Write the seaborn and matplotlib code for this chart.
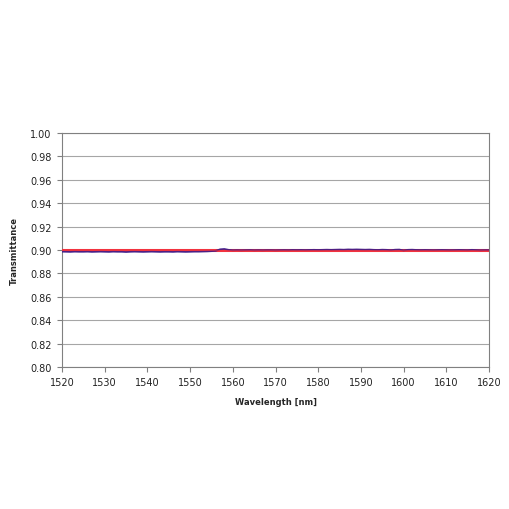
import numpy as np
import pandas as pd
import matplotlib
matplotlib.use("Agg")
import matplotlib.pyplot as plt
import seaborn as sns

# measured transmittance, 1 nm steps from 1520 to 1620
wavelength = list(range(1520, 1621))
measured = [
    0.8986, 0.8985, 0.8984, 0.8986, 0.8985, 0.8985, 0.8986, 0.8984, 0.8985, 0.8986,  # 1520-1529
    0.8985, 0.8984, 0.8986, 0.8985, 0.8985, 0.8983, 0.8985, 0.8986, 0.8985, 0.8984,  # 1530-1539
    0.8985, 0.8986, 0.8985, 0.8984, 0.8985, 0.8985, 0.8984, 0.8986, 0.8985, 0.8984,  # 1540-1549
    0.8985, 0.8986, 0.8986, 0.8987, 0.8988, 0.8990, 0.8993, 0.9006, 0.9009, 0.9002,  # 1550-1559
    0.8998, 0.8999, 0.8998, 0.8999, 0.9000, 0.8998, 0.8999, 0.8998, 0.8999, 0.8999,  # 1560-1569
    0.8998, 0.8999, 0.9000, 0.8999, 0.9001, 0.9000, 0.9001, 0.9000, 0.9001, 0.9002,  # 1570-1579
    0.9001, 0.9002, 0.9003, 0.9002, 0.9003, 0.9004, 0.9003, 0.9005, 0.9004, 0.9005,  # 1580-1589
    0.9004, 0.9003, 0.9004, 0.9002, 0.9001, 0.9003, 0.9002, 0.8999, 0.9003, 0.9004,  # 1590-1599
    0.8997, 0.9002, 0.9003, 0.9001, 0.9000, 0.9001, 0.9000, 0.8999, 0.9000, 0.9001,  # 1600-1609
    0.9000, 0.8999, 0.9000, 0.9001, 0.9000, 0.8999, 0.9002, 0.9000, 0.8998, 0.8999,  # 1610-1619
    0.8999,                                                                          # 1620
]
target_wl = [1520, 1620]
target = [0.900, 0.900]

sns.set_style("white")
plt.rcParams["font.family"] = ["DejaVu Sans"]

fig = plt.figure(figsize=(5.1, 5.1), dpi=100)
ax = fig.add_axes([0.1216, 0.2784, 0.8373, 0.4588])

df_t = pd.DataFrame({"wl": target_wl, "T": target})
df_m = pd.DataFrame({"wl": wavelength, "T": measured})
sns.lineplot(data=df_t, x="wl", y="T", ax=ax, color="#f2333f", linewidth=2.2, zorder=3)
sns.lineplot(data=df_m, x="wl", y="T", ax=ax, color="#3a1c8c", linewidth=1.2, zorder=4)
sns.lineplot(data=df_t, x="wl", y="T", ax=ax, color="#f2333f", linewidth=1.0, alpha=0.6, zorder=5)

ax.set_xlim(1520, 1620)
ax.set_ylim(0.80, 1.00)
ax.set_xticks(np.arange(1520, 1621, 10))
ax.set_yticks(np.arange(0.80, 1.001, 0.02))
ax.set_yticklabels([f"{v:.2f}" for v in np.arange(0.80, 1.001, 0.02)])
ax.yaxis.grid(True, color="#a6a6a6", linewidth=0.8)
ax.xaxis.grid(False)
ax.set_axisbelow(True)
for s in ax.spines.values():
    s.set_color("#808080")
    s.set_linewidth(0.8)
ax.tick_params(axis="both", which="major", labelsize=7, length=3.5, width=0.8,
               color="#808080", direction="out", labelcolor="#222222")
ax.tick_params(axis="x", pad=4)
ax.tick_params(axis="y", pad=4)
ax.tick_params(left=True, bottom=True)

ax.set_xlabel("Wavelength [nm]", fontsize=6, fontweight="bold", labelpad=7)
ax.set_ylabel("Transmittance", fontsize=6, fontweight="bold", labelpad=8)

fig.savefig("out.png", dpi=100)
